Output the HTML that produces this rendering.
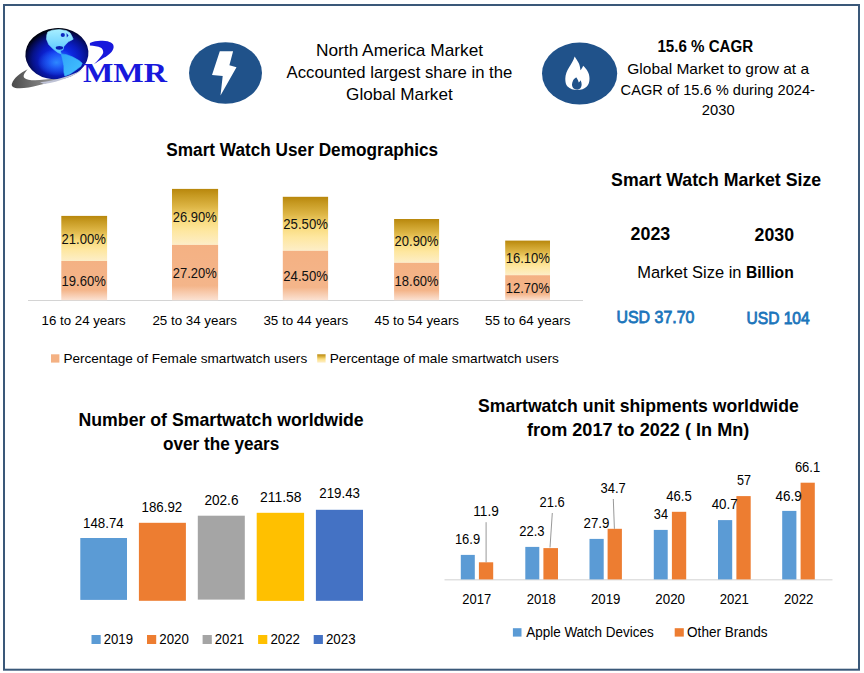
<!DOCTYPE html>
<html><head><meta charset="utf-8"><title>Smart Watch Market</title>
<style>html,body{margin:0;padding:0;background:#fff;}svg{display:block;}</style>
</head><body>
<svg width="864" height="673" viewBox="0 0 864 673">
<rect width="864" height="673" fill="#fff"/>
<defs>
<linearGradient id="gm" x1="0" y1="0" x2="0" y2="1">
<stop offset="0" stop-color="#B8870C"/><stop offset="0.12" stop-color="#C79A22"/><stop offset="0.32" stop-color="#DDB545"/><stop offset="0.55" stop-color="#F8DA7A"/><stop offset="0.75" stop-color="#FEE7A0"/><stop offset="1" stop-color="#FDEEC8"/>
</linearGradient>
<linearGradient id="gf" x1="0" y1="0" x2="0" y2="1">
<stop offset="0" stop-color="#F4B183"/><stop offset="0.74" stop-color="#F4B58A"/><stop offset="1" stop-color="#FBE2D3"/>
</linearGradient>
<radialGradient id="globe" cx="0.54" cy="0.6" r="0.58">
<stop offset="0" stop-color="#1A50FF"/><stop offset="0.3" stop-color="#0E2CE8"/><stop offset="0.55" stop-color="#0A1CC0"/><stop offset="0.75" stop-color="#061288"/><stop offset="0.9" stop-color="#030848"/><stop offset="1" stop-color="#000210"/>
</radialGradient>
<linearGradient id="sw" x1="0" y1="0" x2="1" y2="0">
<stop offset="0" stop-color="#4a4a4a"/><stop offset="0.5" stop-color="#8a8a8a"/><stop offset="1" stop-color="#c8c8d8"/>
</linearGradient>
<radialGradient id="glow" cx="0.5" cy="0.5" r="0.5"><stop offset="0" stop-color="#2E8CFF" stop-opacity="0.95"/><stop offset="0.5" stop-color="#2A7CFF" stop-opacity="0.5"/><stop offset="1" stop-color="#2E8CFF" stop-opacity="0"/></radialGradient>
<linearGradient id="na" x1="0" y1="0" x2="0" y2="1"><stop offset="0" stop-color="#A6EEFF"/><stop offset="1" stop-color="#52C4FF"/></linearGradient>
<linearGradient id="sa" x1="0" y1="0" x2="1" y2="1"><stop offset="0" stop-color="#2FA4F8"/><stop offset="1" stop-color="#45C4FF"/></linearGradient>
</defs>
<rect x="4" y="5" width="855" height="664.7" fill="none" stroke="#3A5879" stroke-width="2"/>
<g id="logo">
<path d="M11.9,83.8 C14,78 20,73 27.7,69.3 C24.5,73 22.5,76 24.5,78 C28,81.5 42,80.5 55.5,78.1 C65,76.3 74,73.6 81.5,70.4 C74,75 66,77.5 58,79.8 C46,83.5 30,88.5 19,88.3 C13.5,88.2 11,86.5 11.9,83.8 Z" fill="url(#sw)"/>
<ellipse cx="56.9" cy="53.7" rx="31.6" ry="25.6" fill="url(#globe)" transform="rotate(-5 56.9 53.7)"/>
<ellipse cx="56.5" cy="62.5" rx="19" ry="13.5" fill="url(#glow)"/>
<path d="M47.8,32 L52.3,30.2 L59.4,29.5 L66.6,30.7 L70.1,32.9 L71.8,36 L73.2,39.2 L71.9,39.9 L68.3,41.8 L65.7,44.5 L63.7,46.7 L63,49.8 L60.3,50.7 L61.2,53.9 L57.7,52.5 L53.2,49 L48.7,44.5 L46.5,39.2 L46.8,35 Z" fill="url(#na)" stroke="url(#na)" stroke-width="0.6" stroke-linejoin="round"/>
<path d="M61.2,53.9 L66.6,54.7 L72.8,57 L79,60.5 L82.2,63.2 L80.8,66.3 L75.5,70.3 L70.1,73.9 L64.8,76.1 L63.9,72.1 L63.9,65.9 L62.6,59.7 Z" fill="url(#sa)" stroke="url(#sa)" stroke-width="0.6" stroke-linejoin="round"/>
<ellipse cx="59.4" cy="47.8" rx="3.7" ry="1.9" fill="#0A1EB0"/>
<ellipse cx="62.8" cy="35" rx="2.1" ry="2" fill="#0C28C0"/>
<path d="M66.5,33 L68.5,35.5 L66.8,37.5 Z" fill="#0C28C0"/>
<path d="M40,82.2 C56,80.4 71,75.8 83.2,69.2 C74,76.4 60,81.4 44,84 Z" fill="#BFC3D6"/>
<path d="M89.9,42.9 C94,41.2 98.5,40.4 102.6,40.8 C106.4,41 109.4,41.6 110.9,42.6 C112.9,43.8 113.9,45.4 113.6,47.4 C113,51.6 108.6,55.2 103.8,57.8 C100.4,60 97,62.4 93.9,64.1 C96.8,61.8 99.2,59 100.9,56.6 C102.4,54.6 103.4,53.2 103.2,52 C103,50 102.4,48.8 100.9,47.8 C98,46.2 93.6,46 89.9,45.6 Z" fill="#1818DC"/>
</g>
<text x="82.9" y="82.1" font-size="26.3" fill="#1818DC" font-family="Liberation Serif" font-weight="bold" textLength="84.0" lengthAdjust="spacingAndGlyphs">MMR</text>
<ellipse cx="225.5" cy="73" rx="36.5" ry="30.8" fill="#20528A"/>
<path d="M219.8,51.2 L233.1,51.2 L229.4,65.3 L236.5,67.2 L220.5,95.4 L222.7,76.1 L212,75 Z" fill="#fff"/>
<ellipse cx="579.6" cy="73.6" rx="37.6" ry="31" fill="#20528A"/>
<path d="M574.66,56.39 C576,59 578,61 578.67,63.07 C579.8,65.5 580.3,68 580.45,70.2 C581.6,68.8 582.6,67.4 583.12,65.74 C585,67.5 586.6,69.2 587.58,71.24 C588.9,73.6 589.5,76 589.51,78.67 C589.5,82 588.6,84.6 586.83,86.54 C584.5,88.9 581,90.1 577.18,90.1 C573.5,90.1 570,88.9 567.53,86.54 C565.8,84.6 565.3,82 565.3,78.67 C565.3,74.5 567,71 569.01,67.53 C571,64 573.5,60.5 574.66,56.39 Z" fill="#fff"/>
<path d="M576.14,77.18 C577.4,78.8 578.4,80.4 578.67,82.38 C579.5,81.8 580.2,81 580.6,80.15 C581.3,81.6 581.7,83 581.64,84.6 C581.6,87.6 579.8,89.8 577.18,89.8 C574.2,89.8 572,87.6 571.98,84.6 C572,83 572.5,81.5 573.17,80.15 C574,78.8 575.4,78.2 576.14,77.18 Z" fill="#20528A"/>
<text x="316.0" y="55.9" font-size="16.2" fill="#000" font-family="Liberation Sans" textLength="167.1" lengthAdjust="spacingAndGlyphs">North America Market</text>
<text x="286.6" y="78.1" font-size="16.2" fill="#000" font-family="Liberation Sans" textLength="225.7" lengthAdjust="spacingAndGlyphs">Accounted largest share in the</text>
<text x="346.1" y="99.8" font-size="16.2" fill="#000" font-family="Liberation Sans" textLength="106.6" lengthAdjust="spacingAndGlyphs">Global Market</text>
<text x="657.4" y="51.6" font-size="16" fill="#000" font-family="Liberation Sans" font-weight="bold" textLength="95.8" lengthAdjust="spacingAndGlyphs">15.6 % CAGR</text>
<text x="627.3" y="73.7" font-size="14.8" fill="#000" font-family="Liberation Sans" textLength="181.8" lengthAdjust="spacingAndGlyphs">Global Market to grow at a</text>
<text x="620.6" y="94.7" font-size="14.8" fill="#000" font-family="Liberation Sans" textLength="194.4" lengthAdjust="spacingAndGlyphs">CAGR of 15.6 % during 2024-</text>
<text x="701.8" y="115.0" font-size="14.8" fill="#000" font-family="Liberation Sans" textLength="32.8" lengthAdjust="spacingAndGlyphs">2030</text>
<text x="166.3" y="156.0" font-size="18" fill="#000" font-family="Liberation Sans" font-weight="bold" textLength="271.9" lengthAdjust="spacingAndGlyphs">Smart Watch User Demographics</text>
<rect x="28" y="300" width="555" height="1" fill="#D4D4D4"/>
<rect x="61.3" y="215.9" width="45.8" height="45.1" fill="url(#gm)"/>
<rect x="61.3" y="261.0" width="45.8" height="39.2" fill="url(#gf)"/>
<rect x="172.0" y="188.9" width="46.1" height="56.0" fill="url(#gm)"/>
<rect x="172.0" y="244.9" width="46.1" height="55.3" fill="url(#gf)"/>
<rect x="282.8" y="196.8" width="45.3" height="54.0" fill="url(#gm)"/>
<rect x="282.8" y="250.8" width="45.3" height="49.4" fill="url(#gf)"/>
<rect x="394.1" y="219.0" width="45.0" height="43.8" fill="url(#gm)"/>
<rect x="394.1" y="262.8" width="45.0" height="37.4" fill="url(#gf)"/>
<rect x="505.2" y="240.6" width="44.8" height="34.6" fill="url(#gm)"/>
<rect x="505.2" y="275.2" width="44.8" height="25.0" fill="url(#gf)"/>
<text x="61.5" y="243.7" font-size="14.2" fill="#111" font-family="Liberation Sans" textLength="44.3" lengthAdjust="spacingAndGlyphs">21.00%</text>
<text x="61.5" y="285.7" font-size="14.2" fill="#111" font-family="Liberation Sans" textLength="44.3" lengthAdjust="spacingAndGlyphs">19.60%</text>
<text x="172.8" y="222.0" font-size="14.2" fill="#111" font-family="Liberation Sans" textLength="44.0" lengthAdjust="spacingAndGlyphs">26.90%</text>
<text x="172.8" y="278.0" font-size="14.2" fill="#111" font-family="Liberation Sans" textLength="44.0" lengthAdjust="spacingAndGlyphs">27.20%</text>
<text x="283.3" y="228.9" font-size="14.2" fill="#111" font-family="Liberation Sans" textLength="44.6" lengthAdjust="spacingAndGlyphs">25.50%</text>
<text x="283.3" y="281.1" font-size="14.2" fill="#111" font-family="Liberation Sans" textLength="44.6" lengthAdjust="spacingAndGlyphs">24.50%</text>
<text x="394.6" y="245.7" font-size="14.2" fill="#111" font-family="Liberation Sans" textLength="44.0" lengthAdjust="spacingAndGlyphs">20.90%</text>
<text x="394.6" y="286.4" font-size="14.2" fill="#111" font-family="Liberation Sans" textLength="44.0" lengthAdjust="spacingAndGlyphs">18.60%</text>
<text x="505.7" y="262.8" font-size="14.2" fill="#111" font-family="Liberation Sans" textLength="44.3" lengthAdjust="spacingAndGlyphs">16.10%</text>
<text x="505.7" y="292.6" font-size="14.2" fill="#111" font-family="Liberation Sans" textLength="44.3" lengthAdjust="spacingAndGlyphs">12.70%</text>
<text x="41.6" y="324.6" font-size="13.5" fill="#000" font-family="Liberation Sans" textLength="84.1" lengthAdjust="spacingAndGlyphs">16 to 24 years</text>
<text x="152.4" y="324.6" font-size="13.5" fill="#000" font-family="Liberation Sans" textLength="84.6" lengthAdjust="spacingAndGlyphs">25 to 34 years</text>
<text x="263.4" y="324.6" font-size="13.5" fill="#000" font-family="Liberation Sans" textLength="84.8" lengthAdjust="spacingAndGlyphs">35 to 44 years</text>
<text x="374.5" y="324.6" font-size="13.5" fill="#000" font-family="Liberation Sans" textLength="84.5" lengthAdjust="spacingAndGlyphs">45 to 54 years</text>
<text x="485.1" y="324.6" font-size="13.5" fill="#000" font-family="Liberation Sans" textLength="85.3" lengthAdjust="spacingAndGlyphs">55 to 64 years</text>
<rect x="51.0" y="354.3" width="8.4" height="8.3" fill="#F4B183"/>
<text x="63.4" y="363.1" font-size="13.4" fill="#000" font-family="Liberation Sans" textLength="243.8" lengthAdjust="spacingAndGlyphs">Percentage of Female smartwatch users</text>
<rect x="317.2" y="354.3" width="8.4" height="8.3" fill="url(#gm)"/>
<text x="329.7" y="363.1" font-size="13.4" fill="#000" font-family="Liberation Sans" textLength="229.1" lengthAdjust="spacingAndGlyphs">Percentage of male smartwatch users</text>
<text x="611.1" y="186.2" font-size="18.4" fill="#000" font-family="Liberation Sans" font-weight="bold" textLength="210.0" lengthAdjust="spacingAndGlyphs">Smart Watch Market Size</text>
<text x="630.6" y="240.0" font-size="18.4" fill="#000" font-family="Liberation Sans" font-weight="bold" textLength="39.7" lengthAdjust="spacingAndGlyphs">2023</text>
<text x="754.6" y="241.3" font-size="18.4" fill="#000" font-family="Liberation Sans" font-weight="bold" textLength="39.4" lengthAdjust="spacingAndGlyphs">2030</text>
<text x="637.2" y="277.6" font-size="17.4" fill="#000" font-family="Liberation Sans" textLength="104.3" lengthAdjust="spacingAndGlyphs">Market Size in</text>
<text x="745.9" y="277.6" font-size="17.4" fill="#000" font-family="Liberation Sans" font-weight="bold" textLength="47.8" lengthAdjust="spacingAndGlyphs">Billion</text>
<text x="616.5" y="322.5" font-size="16.5" fill="#1B75BB" font-family="Liberation Sans" textLength="77.9" lengthAdjust="spacingAndGlyphs" stroke="#1B75BB" stroke-width="0.8">USD 37.70</text>
<text x="746.5" y="324.0" font-size="16.5" fill="#1B75BB" font-family="Liberation Sans" textLength="63.2" lengthAdjust="spacingAndGlyphs" stroke="#1B75BB" stroke-width="0.8">USD 104</text>
<text x="78.5" y="426.3" font-size="18.2" fill="#000" font-family="Liberation Sans" font-weight="bold" textLength="285.2" lengthAdjust="spacingAndGlyphs">Number of Smartwatch worldwide</text>
<text x="163.0" y="449.6" font-size="18.2" fill="#000" font-family="Liberation Sans" font-weight="bold" textLength="116.3" lengthAdjust="spacingAndGlyphs">over the years</text>
<rect x="80.3" y="538.0" width="46.7" height="61.9" fill="#5B9BD5"/>
<rect x="138.9" y="522.8" width="47.0" height="78.0" fill="#ED7D31"/>
<rect x="197.8" y="515.7" width="47.0" height="83.9" fill="#A5A5A5"/>
<rect x="256.7" y="512.8" width="47.4" height="88.1" fill="#FFC000"/>
<rect x="315.9" y="509.8" width="47.1" height="91.0" fill="#4472C4"/>
<text x="83.0" y="527.6" font-size="13.8" fill="#000" font-family="Liberation Sans" textLength="40.7" lengthAdjust="spacingAndGlyphs">148.74</text>
<text x="141.5" y="512.0" font-size="13.8" fill="#000" font-family="Liberation Sans" textLength="40.7" lengthAdjust="spacingAndGlyphs">186.92</text>
<text x="204.4" y="505.4" font-size="13.8" fill="#000" font-family="Liberation Sans" textLength="34.1" lengthAdjust="spacingAndGlyphs">202.6</text>
<text x="260.0" y="501.7" font-size="13.8" fill="#000" font-family="Liberation Sans" textLength="41.5" lengthAdjust="spacingAndGlyphs">211.58</text>
<text x="319.3" y="498.0" font-size="13.8" fill="#000" font-family="Liberation Sans" textLength="40.7" lengthAdjust="spacingAndGlyphs">219.43</text>
<rect x="91.5" y="635.0" width="9.2" height="9.0" fill="#5B9BD5"/>
<text x="103.7" y="643.6" font-size="14" fill="#000" font-family="Liberation Sans" textLength="29.3" lengthAdjust="spacingAndGlyphs">2019</text>
<rect x="147.0" y="635.0" width="9.2" height="9.0" fill="#ED7D31"/>
<text x="159.3" y="643.6" font-size="14" fill="#000" font-family="Liberation Sans" textLength="29.6" lengthAdjust="spacingAndGlyphs">2020</text>
<rect x="202.6" y="635.0" width="9.2" height="9.0" fill="#A5A5A5"/>
<text x="214.8" y="643.6" font-size="14" fill="#000" font-family="Liberation Sans" textLength="29.2" lengthAdjust="spacingAndGlyphs">2021</text>
<rect x="258.1" y="635.0" width="9.2" height="9.0" fill="#FFC000"/>
<text x="270.4" y="643.6" font-size="14" fill="#000" font-family="Liberation Sans" textLength="29.6" lengthAdjust="spacingAndGlyphs">2022</text>
<rect x="313.7" y="635.0" width="9.2" height="9.0" fill="#4472C4"/>
<text x="325.9" y="643.6" font-size="14" fill="#000" font-family="Liberation Sans" textLength="29.7" lengthAdjust="spacingAndGlyphs">2023</text>
<text x="478.0" y="411.9" font-size="17.8" fill="#000" font-family="Liberation Sans" font-weight="bold" textLength="320.8" lengthAdjust="spacingAndGlyphs">Smartwatch unit shipments worldwide</text>
<text x="527.0" y="435.9" font-size="17.8" fill="#000" font-family="Liberation Sans" font-weight="bold" textLength="222.3" lengthAdjust="spacingAndGlyphs">from 2017 to 2022 ( In Mn)</text>
<rect x="444.5" y="579.2" width="388" height="1.2" fill="#D9D9D9"/>
<rect x="460.8" y="554.9" width="14.0" height="24.5" fill="#5B9BD5"/>
<rect x="478.9" y="562.3" width="14.3" height="17.1" fill="#ED7D31"/>
<rect x="525.3" y="546.9" width="14.0" height="32.5" fill="#5B9BD5"/>
<rect x="543.4" y="548.1" width="14.6" height="31.3" fill="#ED7D31"/>
<rect x="589.5" y="538.9" width="14.2" height="40.5" fill="#5B9BD5"/>
<rect x="607.6" y="528.8" width="14.3" height="50.6" fill="#ED7D31"/>
<rect x="653.8" y="529.9" width="13.9" height="49.5" fill="#5B9BD5"/>
<rect x="671.9" y="511.8" width="14.3" height="67.6" fill="#ED7D31"/>
<rect x="718.0" y="520.1" width="14.2" height="59.3" fill="#5B9BD5"/>
<rect x="736.4" y="496.1" width="14.3" height="83.3" fill="#ED7D31"/>
<rect x="782.2" y="510.9" width="14.2" height="68.5" fill="#5B9BD5"/>
<rect x="800.6" y="482.7" width="14.2" height="96.7" fill="#ED7D31"/>
<path d="M486.1,522.2 L486.1,562.3 M552.3,513 L550,547.5 M613.3,499 L614.4,528.8" stroke="#8C8C8C" stroke-width="0.9" fill="none"/>
<text x="454.9" y="543.6" font-size="13.8" fill="#000" font-family="Liberation Sans" textLength="25.2" lengthAdjust="spacingAndGlyphs">16.9</text>
<text x="473.3" y="516.0" font-size="13.8" fill="#000" font-family="Liberation Sans" textLength="25.5" lengthAdjust="spacingAndGlyphs">11.9</text>
<text x="519.3" y="535.6" font-size="13.8" fill="#000" font-family="Liberation Sans" textLength="25.3" lengthAdjust="spacingAndGlyphs">22.3</text>
<text x="539.6" y="507.0" font-size="13.8" fill="#000" font-family="Liberation Sans" textLength="25.2" lengthAdjust="spacingAndGlyphs">21.6</text>
<text x="583.5" y="527.9" font-size="13.8" fill="#000" font-family="Liberation Sans" textLength="25.9" lengthAdjust="spacingAndGlyphs">27.9</text>
<text x="600.5" y="493.1" font-size="13.8" fill="#000" font-family="Liberation Sans" textLength="25.2" lengthAdjust="spacingAndGlyphs">34.7</text>
<text x="653.8" y="518.9" font-size="13.8" fill="#000" font-family="Liberation Sans" textLength="14.2" lengthAdjust="spacingAndGlyphs">34</text>
<text x="666.3" y="500.5" font-size="13.8" fill="#000" font-family="Liberation Sans" textLength="25.5" lengthAdjust="spacingAndGlyphs">46.5</text>
<text x="711.7" y="509.4" font-size="13.8" fill="#000" font-family="Liberation Sans" textLength="25.9" lengthAdjust="spacingAndGlyphs">40.7</text>
<text x="737.0" y="484.8" font-size="13.8" fill="#000" font-family="Liberation Sans" textLength="14.0" lengthAdjust="spacingAndGlyphs">57</text>
<text x="775.6" y="500.5" font-size="13.8" fill="#000" font-family="Liberation Sans" textLength="26.2" lengthAdjust="spacingAndGlyphs">46.9</text>
<text x="794.9" y="472.3" font-size="13.8" fill="#000" font-family="Liberation Sans" textLength="25.3" lengthAdjust="spacingAndGlyphs">66.1</text>
<text x="462.3" y="603.9" font-size="14" fill="#000" font-family="Liberation Sans" textLength="28.8" lengthAdjust="spacingAndGlyphs">2017</text>
<text x="526.8" y="603.9" font-size="14" fill="#000" font-family="Liberation Sans" textLength="29.1" lengthAdjust="spacingAndGlyphs">2018</text>
<text x="591.0" y="603.9" font-size="14" fill="#000" font-family="Liberation Sans" textLength="29.4" lengthAdjust="spacingAndGlyphs">2019</text>
<text x="655.3" y="603.9" font-size="14" fill="#000" font-family="Liberation Sans" textLength="29.7" lengthAdjust="spacingAndGlyphs">2020</text>
<text x="719.7" y="603.9" font-size="14" fill="#000" font-family="Liberation Sans" textLength="29.2" lengthAdjust="spacingAndGlyphs">2021</text>
<text x="783.9" y="603.9" font-size="14" fill="#000" font-family="Liberation Sans" textLength="29.5" lengthAdjust="spacingAndGlyphs">2022</text>
<rect x="512.9" y="628.2" width="8.6" height="8.4" fill="#5B9BD5"/>
<text x="526.2" y="637.2" font-size="14" fill="#000" font-family="Liberation Sans" textLength="127.6" lengthAdjust="spacingAndGlyphs">Apple Watch Devices</text>
<rect x="674.7" y="628.2" width="9.1" height="8.4" fill="#ED7D31"/>
<text x="687.1" y="637.2" font-size="14" fill="#000" font-family="Liberation Sans" textLength="80.5" lengthAdjust="spacingAndGlyphs">Other Brands</text>
</svg>
</body></html>
